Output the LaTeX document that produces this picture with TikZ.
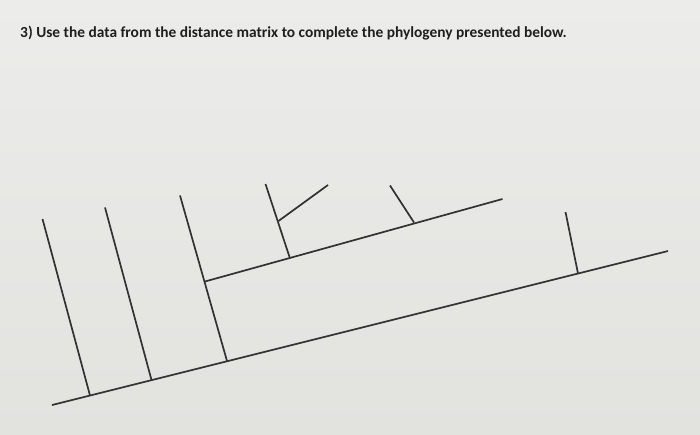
\documentclass[tikz,border=0pt]{standalone}
\usepackage{fontspec}
\setmainfont{Carlito}
\definecolor{paper}{RGB}{226,226,223}
\definecolor{paperlight}{RGB}{236,236,234}
\definecolor{ink}{RGB}{50,50,48}
\begin{document}
\begin{tikzpicture}[x=1pt,y=-1pt,
  branch/.style={draw=ink,line width=1.7pt},
  title/.style={anchor=west,inner sep=0pt,font=\bfseries\fontsize{15.4}{18}\selectfont,text=black!88}]
\shade[top color=paperlight,bottom color=paper] (0,0) rectangle (700,435);
\useasboundingbox (0,0) rectangle (700,435);
\node[title] (q) at (20,33) {3) Use the data from the distance matrix to complete the phylogeny presented below.};
% main line
\coordinate (root) at (52,405);
\coordinate (mainend) at (668,251);
\coordinate (b1) at (90,395.5);
\coordinate (t1) at (42.5,219);
\coordinate (b2) at (151.5,380);
\coordinate (t2) at (105,207.5);
\coordinate (b3) at (227,361);
\coordinate (t3) at (180,195.5);
\coordinate (j3) at (205,281.5);
\coordinate (b6) at (578,273.5);
\coordinate (t6) at (565.5,212);
% upper line
\coordinate (upend) at (502.5,199);
\coordinate (bK) at (290,258.5);
\coordinate (tK) at (265.5,184);
\coordinate (jK) at (278.5,221);
\coordinate (sK) at (328,185);
\coordinate (b5) at (414,222.5);
\coordinate (t5) at (390,185.5);
\draw[branch] (root) -- (mainend);
\draw[branch] (b1) -- (t1);
\draw[branch] (b2) -- (t2);
\draw[branch] (b3) -- (t3);
\draw[branch] (b6) -- (t6);
\draw[branch] (j3) -- (upend);
\draw[branch] (bK) -- (tK);
\draw[branch] (jK) -- (sK);
\draw[branch] (b5) -- (t5);
\end{tikzpicture}
\end{document}
